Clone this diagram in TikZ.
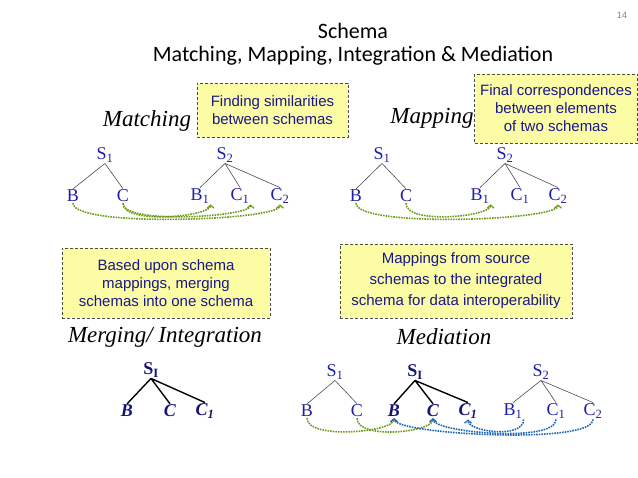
\documentclass[tikz,border=0pt]{standalone}
\usepackage{fontspec}
\setmainfont{Liberation Serif}
\newfontfamily\sans{Liberation Sans}
\newfontfamily\titlef{Carlito}
\usetikzlibrary{arrows.meta}
\definecolor{lblue}{RGB}{30,30,170}
\definecolor{dgreen}{RGB}{110,155,25}
\definecolor{dblue}{RGB}{30,105,185}
\definecolor{boxfill}{RGB}{252,252,165}
\newcommand{\sbs}[1]{\textsubscript{#1}}
\begin{document}
\begin{tikzpicture}[x=1pt,y=-1pt,
 lab/.style={text=lblue,font=\fontsize{18}{18}\selectfont,inner sep=1pt},
 ilab/.style={text=lblue!70!black,font=\fontsize{18}{18}\selectfont\bfseries\itshape,inner sep=1pt},
 slab/.style={text=lblue!70!black,font=\fontsize{18}{18}\selectfont\bfseries,inner sep=1pt},
 head/.style={font=\fontsize{23}{23}\selectfont\itshape},
 note/.style={draw=black!70,densely dashed,fill=boxfill,text=lblue!80!black,align=center,font=\sans\fontsize{15}{18}\selectfont,inner sep=2pt},
 tl/.style={draw=black!70,line width=0.6pt},
 tlb/.style={draw=black,line width=1.4pt},
 ga/.style={draw=dgreen,densely dotted,line width=1.6pt,-{Straight Barb[length=3pt,width=7pt,line width=1.2pt]}},
 ba/.style={draw=dblue,densely dotted,line width=1.6pt,-{Straight Barb[length=3pt,width=7pt,line width=1.2pt]}}]
\useasboundingbox (0,0) rectangle (638,478);
\node (n14) at (622,15) {\sans\fontsize{9}{9}\selectfont\color{black!50}14};
\node[align=center,font=\titlef\fontsize{22}{23}\selectfont] (title) at (353,44) {Schema\\Matching, Mapping, Integration \& Mediation};
% boxes
\node[note,minimum width=151pt,minimum height=54pt] (b1) at (272.5,110) {Finding similarities\\between schemas};
\node[note,minimum width=163pt,minimum height=69pt] (b2) at (556,108.5) {Final correspondences\\between elements\\of two schemas};
\node[note,minimum width=208pt,minimum height=70pt] (b3) at (166,283) {Based upon schema\\mappings, merging\\schemas into one schema};
\node[note,minimum width=232pt,minimum height=74pt,font=\sans\fontsize{15}{21}\selectfont] (b4) at (456,281) {Mappings from source\\schemas to the integrated\\schema for data interoperability};
\node[head] (h1) at (147,121) {Matching};
\node[head] (h2) at (432,118) {Mapping};
\node[head] (h3) at (165,337) {Merging/ Integration};
\node[head] (h4) at (444,337) {Mediation};
% Matching tree
\node[lab] (ms1) at (105,155) {S\sbs{1}};
\node[lab] (mb) at (73,196) {B};
\node[lab] (mc) at (123,196) {C};
\node[lab] (ms2) at (225,155) {S\sbs{2}};
\node[lab] (mb1) at (200,196) {B\sbs{1}};
\node[lab] (mc1) at (240,196) {C\sbs{1}};
\node[lab] (mc2) at (280,196) {C\sbs{2}};
\draw[tl] (ms1.south) -- (mb.north) (ms1.south) -- (mc.north);
\draw[tl] (ms2.south) -- (mb1.north) (ms2.south) -- (mc1.north) (ms2.south) -- (mc2.north);
\draw[ga] (mc.south) .. controls +(0,22) and +(0,12) .. (mb1.south east);
\draw[ga] (mc.south) .. controls +(0,22) and +(0,12) .. (mc1.south east);
\draw[ga] (mb.south) .. controls +(0,25) and +(0,16) .. (mc2.south);
% Mapping tree
\node[lab] (ps1) at (382,155) {S\sbs{1}};
\node[lab] (pb) at (356,196) {B};
\node[lab] (pc) at (406,196) {C};
\node[lab] (ps2) at (505,155) {S\sbs{2}};
\node[lab] (pb1) at (480,196) {B\sbs{1}};
\node[lab] (pc1) at (520,196) {C\sbs{1}};
\node[lab] (pc2) at (558,196) {C\sbs{2}};
\draw[tl] (ps1.south) -- (pb.north) (ps1.south) -- (pc.north);
\draw[tl] (ps2.south) -- (pb1.north) (ps2.south) -- (pc1.north) (ps2.south) -- (pc2.north);
\draw[ga] (pc.south) .. controls +(0,22) and +(0,12) .. (pb1.south east);
\draw[ga] (pb.south) .. controls +(0,25) and +(0,16) .. (pc2.south);
% Merging tree
\node[slab] (gs) at (151,370) {S\sbs{I}};
\node[ilab] (gb) at (127,411) {B};
\node[ilab] (gc) at (170,411) {C};
\node[ilab] (gc1) at (205,411) {C\sbs{1}};
\draw[tlb] (gs.south) -- (gb.north) (gs.south) -- (gc.north) (gs.south) -- (gc1.north);
% Mediation tree
\node[lab] (ds1) at (335,372) {S\sbs{1}};
\node[lab] (db) at (307,411) {B};
\node[lab] (dc) at (357,411) {C};
\node[slab] (dsi) at (415,372) {S\sbs{I}};
\node[ilab] (dib) at (394,411) {B};
\node[ilab] (dic) at (433,411) {C};
\node[ilab] (dic1) at (468,411) {C\sbs{1}};
\node[lab] (ds2) at (541,372) {S\sbs{2}};
\node[lab] (db1) at (513,411) {B\sbs{1}};
\node[lab] (dc1) at (556,411) {C\sbs{1}};
\node[lab] (dc2) at (593,411) {C\sbs{2}};
\draw[tl] (ds1.south) -- (db.north) (ds1.south) -- (dc.north);
\draw[tlb] (dsi.south) -- (dib.north) (dsi.south) -- (dic.north) (dsi.south) -- (dic1.north);
\draw[tl] (ds2.south) -- (db1.north) (ds2.south) -- (dc1.north) (ds2.south) -- (dc2.north);
\draw[ga] (db.south) .. controls +(0,22) and +(0,14) .. (dib.south);
\draw[ga] (dc.south) .. controls +(0,22) and +(0,14) .. (dic.south);
\draw[ba] (db1.south east) .. controls +(0,20) and +(0,12) .. (dic1.south);
\draw[ba] (dc1.south) .. controls +(0,24) and +(0,14) .. (dic.south);
\draw[ba] (dc2.south) .. controls +(0,26) and +(0,16) .. (dib.south);
\end{tikzpicture}
\end{document}
